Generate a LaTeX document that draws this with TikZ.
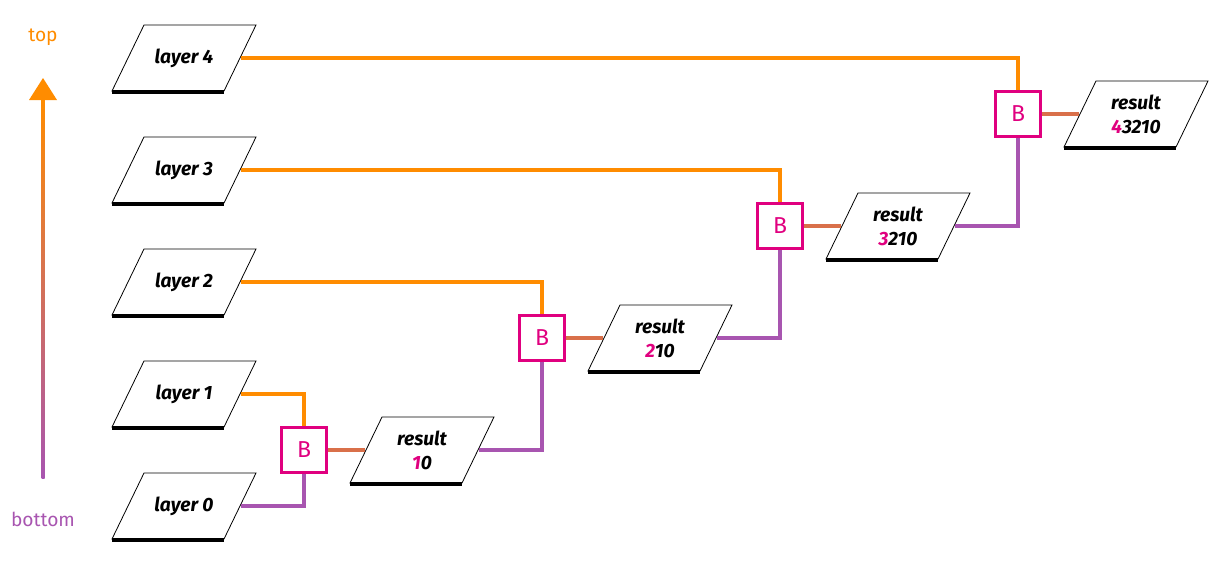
\documentclass[tikz,border=0pt]{standalone}
\usepackage{fontspec}
\setmainfont{Fira Sans}
\usetikzlibrary{calc}
\definecolor{org}{HTML}{FF8C00}
\definecolor{pur}{HTML}{A855B0}
\definecolor{mid}{HTML}{D9704A}
\definecolor{mag}{HTML}{E0007F}
\begin{document}
\begin{tikzpicture}[x=0.75pt,y=-0.75pt,
 para/.style={inner sep=0pt, font=\itshape\bfseries\Large, align=center},
 bb/.style={draw=mag, line width=1.8pt, minimum size=34pt, inner sep=0pt, text=mag, font=\LARGE},
 lo/.style={org, line width=2.3pt},
 lp/.style={pur, line width=2.3pt},
 lm/.style={mid, line width=2.3pt},
 shad/.style={line width=2.8pt}]
\useasboundingbox (0,0) rectangle (1209,561);
\newcommand{\mypara}[4]{% name, x, y, text
 \filldraw[fill=white, draw=black, line width=0.6pt] ($(#2,#3)+(-40,-33)$) -- ($(#2,#3)+(72,-33)$) -- ($(#2,#3)+(40,33)$) -- ($(#2,#3)+(-72,33)$) -- cycle;
 \draw[shad] ($(#2,#3)+(-72,34)$) -- ($(#2,#3)+(40,34)$);
 \node[para] (#1) at (#2,#3) {#4};
 \coordinate (#1e) at ($(#2,#3)+(57,0)$);
 \coordinate (#1w) at ($(#2,#3)+(-57,0)$);
}
% arrow
\shade[bottom color=pur, top color=org] (41.5,478) rectangle (44.5,98);
\fill[org] (29,100) -- (57,100) -- (43,78) -- cycle;
\node[text=org, font=\Large] (top) at (43,37) {top};
\node[text=pur, font=\Large] (bot) at (43,519) {bottom};
% layers
\foreach \i/\y in {0/506,1/394,2/282,3/170,4/58}{
 \mypara{l\i}{184}{\y}{layer \i}
}
% B boxes and results
\foreach \i/\x/\y/\n in {1/304/450/{\textcolor{mag}{1}0},2/542/338/{\textcolor{mag}{2}10},3/780/226/{\textcolor{mag}{3}210},4/1018/114/{\textcolor{mag}{4}3210}}{
 \node[bb] (b\i) at (\x,\y) {B};
 \mypara{r\i}{\x+118}{\y}{result\\ \n}
}
% connectors
\draw[lo] (l1e) -| (b1.north);
\draw[lp] (l0e) -| (b1.south);
\foreach \i/\j in {2/1,3/2,4/3}{
 \draw[lo] (l\i e) -| (b\i.north);
 \draw[lp] (r\j e) -| (b\i.south);
}
\foreach \i in {1,2,3,4}{\draw[lm] (b\i.east) -- (r\i w);}
\end{tikzpicture}
\end{document}
